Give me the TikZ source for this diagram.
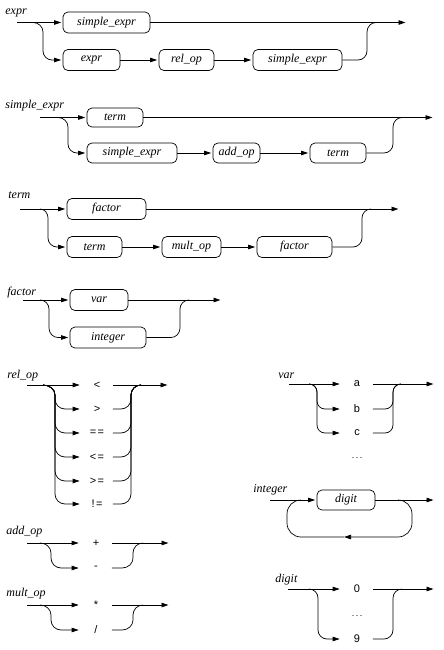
\documentclass[tikz,border=0pt]{standalone}
\usepackage{fontspec}
\setmainfont{Liberation Serif}
\newfontfamily\termfont{Liberation Sans}
\usetikzlibrary{arrows.meta}
\begin{document}
\begin{tikzpicture}[x=1pt,y=-1pt,
  line width=0.7pt,
  nt/.style={draw, rounded corners=5pt, font=\fontsize{12}{14}\selectfont\itshape, minimum height=21pt, inner sep=0pt},
  tm/.style={font=\termfont\fontsize{11}{13}\selectfont, minimum width=31pt, minimum height=14pt, inner sep=0pt},
  lbl/.style={font=\fontsize{12}{14}\selectfont\itshape, anchor=base west, inner sep=0pt},
  dots/.style={font=\termfont\fontsize{9}{11}\selectfont, inner sep=0pt},
  ar/.style={-{Triangle[length=7pt,width=4.5pt]}, shorten >=1.5pt},
  armid/.style={-{Triangle[length=7pt,width=4.5pt]}},
]
\useasboundingbox (0,0) rectangle (444,650);

% ---------------- expr ----------------
\node[lbl] (Lexpr) at (5,15) {expr};
\coordinate (eS) at (17,22.5);
\coordinate (eB) at (33,22.5);
\coordinate (eE) at (407,22.5);
\node[nt, minimum width=87pt] (e1) at (106.5,22.5) {simple\_expr};
\node[nt, minimum width=57pt] (e2) at (91.5,60) {expr};
\node[nt, minimum width=55pt] (e3) at (186.5,60) {rel\_op};
\node[nt, minimum width=89pt] (e4) at (297.5,60) {simple\_expr};
\draw[ar] (eS) -- (e1.west);
\draw[ar] (e1.east) -- (eE);
\draw[ar] (eB) to[out=0,in=90] (43,32) -- (43,51) to[out=-90,in=180] (52,60) -- (e2.west);
\draw[ar] (e2.east) -- (e3.west);
\draw[ar] (e3.east) -- (e4.west);
\draw (e4.east) -- (358,60) to[out=0,in=-90] (367,51) -- (367,32) to[out=90,in=180] (376,22.5);

% ---------------- simple_expr ----------------
\node[lbl] (Lsimple) at (5,109) {simple\_expr};
\coordinate (sS) at (40,117.5);
\coordinate (sB) at (58,117.5);
\coordinate (sE) at (434,117.5);
\node[nt, minimum width=56pt, minimum height=19pt] (s1) at (115,117.5) {term};
\node[nt, minimum width=90pt, minimum height=20pt] (s2) at (132,153) {simple\_expr};
\node[nt, minimum width=47pt, minimum height=20pt] (s3) at (236.5,153) {add\_op};
\node[nt, minimum width=56pt, minimum height=20pt] (s4) at (338,153) {term};
\draw[ar] (sS) -- (s1.west);
\draw[ar] (s1.east) -- (sE);
\draw[ar] (sB) to[out=0,in=90] (68,127) -- (68,144) to[out=-90,in=180] (77,153) -- (s2.west);
\draw[ar] (s2.east) -- (s3.west);
\draw[ar] (s3.east) -- (s4.west);
\draw (s4.east) -- (384,153) to[out=0,in=-90] (393,144) -- (393,127) to[out=90,in=180] (402,117.5);

% ---------------- term ----------------
\node[lbl] (Lterm) at (8,198) {term};
\coordinate (tS) at (20,209);
\coordinate (tB) at (40,209);
\coordinate (tE) at (400,209);
\node[nt, minimum width=79pt] (t1) at (106.5,209) {factor};
\node[nt, minimum width=55pt] (t2) at (94.5,247) {term};
\node[nt, minimum width=59pt] (t3) at (191.5,247) {mult\_op};
\node[nt, minimum width=75pt] (t4) at (294.5,247) {factor};
\draw[ar] (tS) -- (t1.west);
\draw[ar] (t1.east) -- (tE);
\draw[ar] (tB) to[out=0,in=90] (48,218) -- (48,238) to[out=-90,in=180] (57,247) -- (t2.west);
\draw[ar] (t2.east) -- (t3.west);
\draw[ar] (t3.east) -- (t4.west);
\draw (t4.east) -- (353,247) to[out=0,in=-90] (362,238) -- (362,218) to[out=90,in=180] (371,209);

% ---------------- factor ----------------
\node[lbl] (Lfactor) at (7,295) {factor};
\coordinate (fS) at (23,300);
\coordinate (fB) at (40,300);
\coordinate (fE) at (222,300);
\node[nt, minimum width=58pt] (f1) at (99,300) {var};
\node[nt, minimum width=76pt] (f2) at (108,337.5) {integer};
\draw[ar] (fS) -- (f1.west);
\draw[ar] (f1.east) -- (fE);
\draw[ar] (fB) to[out=0,in=90] (49,309) -- (49,328) to[out=-90,in=180] (58,337.5) -- (f2.west);
\draw (f2.east) -- (171,337.5) to[out=0,in=-90] (180,328) -- (180,309) to[out=90,in=180] (189,300);

% ---------------- rel_op ----------------
\node[lbl] (Lrel) at (7,378) {rel\_op};
\coordinate (rS) at (27,385);
\coordinate (rB) at (43,385);
\coordinate (rE) at (169,385);
\node[tm] (r1) at (97,385) {<};
\node[tm] (r2) at (97,409) {>};
\node[tm] (r3) at (97,433) {=\kern1.5pt=};
\node[tm] (r4) at (97,457) {<\kern1.5pt=};
\node[tm] (r5) at (97,481) {>\kern1.5pt=};
\node[tm] (r6) at (97,504) {!\kern1.5pt=};
\draw[ar] (rS) -- (r1.west);
\draw[ar] (r1.east) -- (rE);
\foreach \n/\y in {r2/409,r3/433,r4/457,r5/481,r6/504}{
  \draw[ar] (rB) to[out=0,in=90] (55,395) -- (55,\y-10) to[out=-90,in=180] (65,\y) -- (\n.west);
  \draw (\n.east) -- (121,\y) to[out=0,in=-90] (131,\y-10) -- (131,395) to[out=90,in=180] (141,385);
}

% ---------------- var ----------------
\node[lbl] (Lvar) at (278,378) {var};
\coordinate (vS) at (289,384);
\coordinate (vB) at (309,384);
\coordinate (vE) at (435,384);
\node[tm] (v1) at (357,384) {a};
\node[tm] (v2) at (357,409) {b};
\node[tm] (v3) at (357,433) {c};
\node[dots] (vdots) at (357,458) {.\,.\,.};
\draw[ar] (vS) -- (v1.west);
\draw[ar] (v1.east) -- (vE);
\foreach \n/\y in {v2/409,v3/433}{
  \draw[ar] (vB) to[out=0,in=90] (317,392) -- (317,\y-8) to[out=-90,in=180] (325,\y) -- (\n.west);
  \draw (\n.east) -- (385,\y) to[out=0,in=-90] (393,\y-8) -- (393,392) to[out=90,in=180] (401,384);
}

% ---------------- integer ----------------
\node[lbl] (Lint) at (253,492) {integer};
\coordinate (iS) at (270,500);
\coordinate (iE) at (435,500);
\coordinate (iR) at (398,500);
\coordinate (iL) at (301,500);
\coordinate (iM) at (344,537);
\node[nt, minimum width=58pt, minimum height=20pt] (i1) at (346,500) {digit};
\draw[ar] (iS) -- (i1.west);
\draw[ar] (i1.east) -- (iE);
\draw[armid] (iR) to[out=0,in=90] (412,514) -- (412,523) to[out=-90,in=0] (398,537) -- (iM);
\draw (iM) -- (301,537) to[out=180,in=-90] (287,523) -- (287,514) to[out=90,in=180] (iL);

% ---------------- add_op ----------------
\node[lbl] (Ladd) at (6,534) {add\_op};
\coordinate (aS) at (27,543);
\coordinate (aB) at (40,543);
\coordinate (aE) at (170,543);
\node[tm] (a1) at (96,543) {+};
\node[tm] (a2) at (96,568) {-};
\draw[ar] (aS) -- (a1.west);
\draw[ar] (a1.east) -- (aE);
\draw[ar] (aB) to[out=0,in=90] (51,553) -- (51,558) to[out=-90,in=180] (61,568) -- (a2.west);
\draw (a2.east) -- (122,568) to[out=0,in=-90] (133,558) -- (133,553) to[out=90,in=180] (143,543);

% ---------------- mult_op ----------------
\node[lbl] (Lmult) at (6,596) {mult\_op};
\coordinate (mS) at (27,605);
\coordinate (mB) at (40,605);
\coordinate (mE) at (170,605);
\node[tm] (m1) at (96,605) {*};
\node[tm] (m2) at (96,630) {/};
\draw[ar] (mS) -- (m1.west);
\draw[ar] (m1.east) -- (mE);
\draw[ar] (mB) to[out=0,in=90] (51,615) -- (51,620) to[out=-90,in=180] (61,630) -- (m2.west);
\draw (m2.east) -- (122,630) to[out=0,in=-90] (133,620) -- (133,615) to[out=90,in=180] (143,605);

% ---------------- digit ----------------
\node[lbl] (Ldigit) at (275,582) {digit};
\coordinate (dS) at (288,589);
\coordinate (dB) at (309,589);
\coordinate (dE) at (435,589);
\node[tm] (d0) at (357,589) {0};
\node[dots] (ddots) at (357,616) {.\,.\,.};
\node[tm] (d9) at (357,639) {9};
\draw[ar] (dS) -- (d0.west);
\draw[ar] (d0.east) -- (dE);
\draw[ar] (dB) to[out=0,in=90] (318,598) -- (318,630) to[out=-90,in=180] (327,639) -- (d9.west);
\draw (d9.east) -- (384,639) to[out=0,in=-90] (393,630) -- (393,598) to[out=90,in=180] (402,589);
\end{tikzpicture}
\end{document}
